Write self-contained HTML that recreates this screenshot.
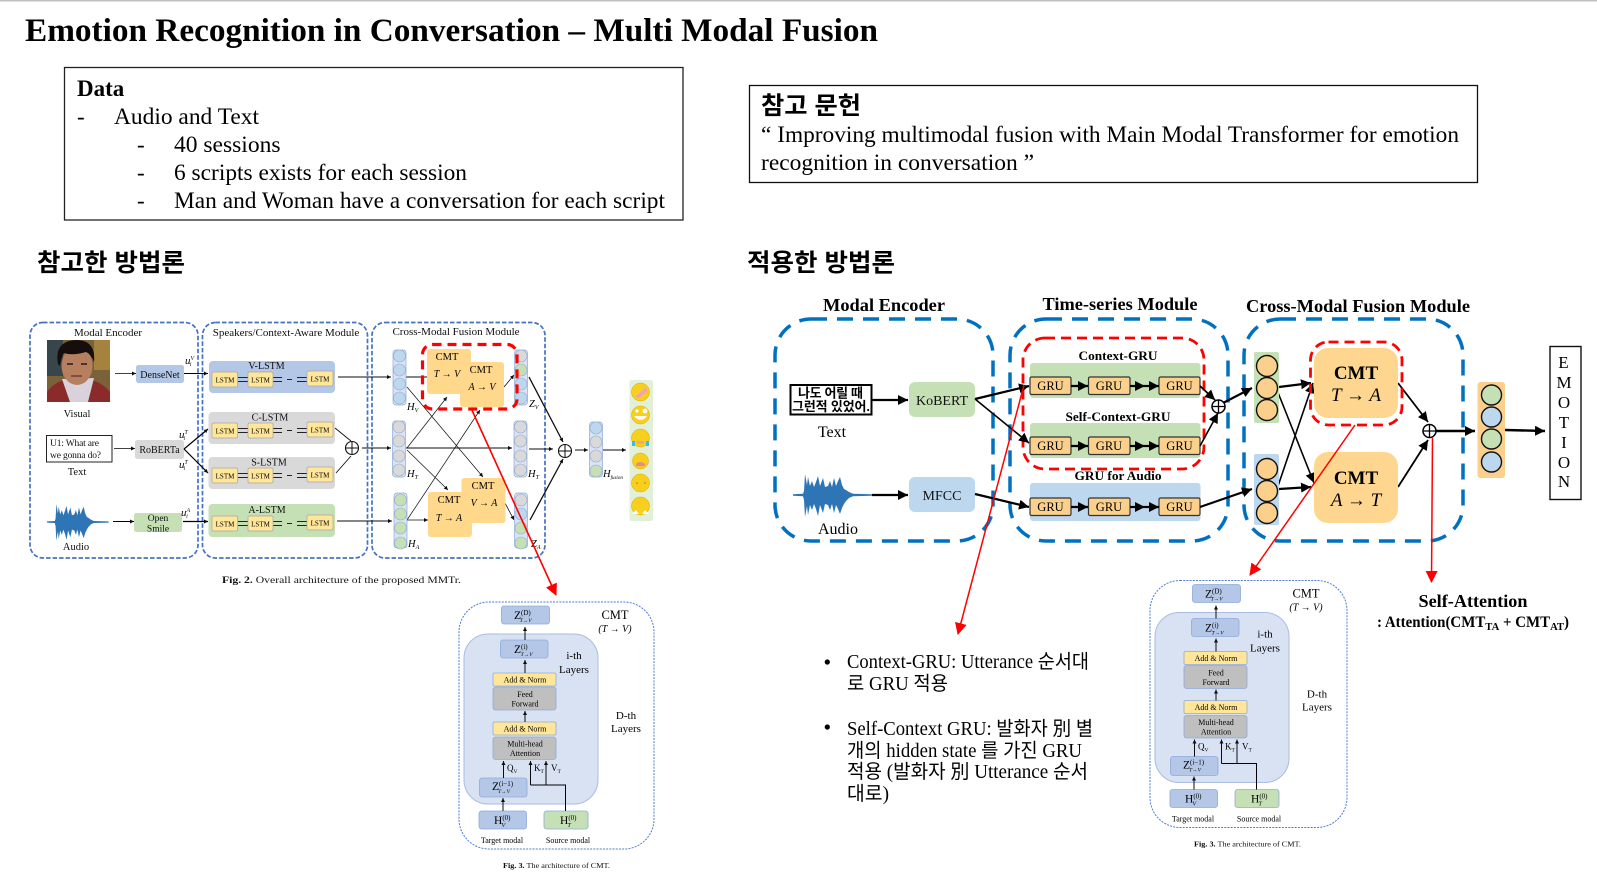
<!DOCTYPE html>
<html lang="ko"><head><meta charset="utf-8"><title>Emotion Recognition in Conversation</title>
<style>
html,body{margin:0;padding:0;background:#fff;width:1597px;height:880px;overflow:hidden}
svg{display:block}
text{font-family:"Liberation Serif","Noto Sans CJK KR",serif;fill:#000}
.k{font-family:"Liberation Sans","Noto Sans CJK KR",sans-serif}
.g{fill:#111}
.m{text-anchor:middle}
.l{stroke:#000;fill:none}
</style></head><body>
<svg xmlns="http://www.w3.org/2000/svg" width="1597" height="880" viewBox="0 0 1597 880">
<defs>
<filter id="b" x="-5%" y="-5%" width="110%" height="110%"><feGaussianBlur stdDeviation="0.35"/></filter>
<marker id="s" markerUnits="userSpaceOnUse" markerWidth="5" markerHeight="5" refX="4" refY="2" orient="auto"><path d="M0 0L4 2L0 4z" fill="#111"/></marker>
<marker id="h" markerUnits="userSpaceOnUse" markerWidth="12" markerHeight="12" refX="10" refY="5" orient="auto"><path d="M0 0L10 5L0 10z" fill="#000"/></marker>
<marker id="r" markerUnits="userSpaceOnUse" markerWidth="13" markerHeight="13" refX="11" refY="6" orient="auto"><path d="M0 0L12 6L0 12z" fill="#f00"/></marker>
<g id="c" stroke="#222" stroke-width=".9" fill="none">
<path d="M238 5.5h10M248 9.5h-10M273 5.5h9M282 9.5h-9M297 5.5h10M307 9.5h-10M287 7.5h5"/>
</g>
<path id="wl" fill="#2e75b6" d="M0-.7L10-1.2L11-4L12-21L14-10L15-18L17-9L19-14L21-8L23-13L25-19L27-9L30-17L32-8L35-9L37-14L39-8L41-17L43-9L45-14L47-18L49-10L51-6L53-5L56-3L60-1.2L79-.7V.7L60 1.2L56 3L53 6L51 9L49 13L47 19L45 14L43 10L41 18L39 9L37 15L35 10L32 9L30 18L27 10L25 21L23 14L21 9L19 15L17 10L15 20L14 11L12 22L11 5L10 1.2L0 .7Z"/>
</defs>
<rect x="0" y="0" width="1597" height="1.5" fill="#bfbfbf"/>

<text x="25" y="41" font-size="33" font-weight="700" textLength="853" lengthAdjust="spacingAndGlyphs">Emotion Recognition in Conversation – Multi Modal Fusion</text>

<rect x="64.5" y="67.5" width="618.5" height="152.5" fill="#fff" stroke="#222" stroke-width="1.3"/>
<text x="77" y="96" font-size="23" font-weight="700">Data</text>
<text x="77" y="124" font-size="23">-</text><text x="114" y="124" font-size="23.5" textLength="145" lengthAdjust="spacingAndGlyphs">Audio and Text</text>
<text x="137" y="152" font-size="23">-</text><text x="174" y="152" font-size="23.5" textLength="106.5" lengthAdjust="spacingAndGlyphs">40 sessions</text>
<text x="137" y="180" font-size="23">-</text><text x="174" y="180" font-size="23.5" textLength="293" lengthAdjust="spacingAndGlyphs">6 scripts exists for each session</text>
<text x="137" y="208" font-size="23">-</text><text x="174" y="208" font-size="23.5" textLength="491" lengthAdjust="spacingAndGlyphs">Man and Woman have a conversation for each script</text>

<rect x="749.5" y="85.5" width="728" height="97" fill="#fff" stroke="#111" stroke-width="1.3"/>
<text class="k" x="761" y="114" font-size="24.5" font-weight="700" textLength="100" lengthAdjust="spacingAndGlyphs">참고 문헌</text>
<text x="761" y="142" font-size="23.5" textLength="698" lengthAdjust="spacingAndGlyphs">“ Improving multimodal fusion with Main Modal Transformer for emotion</text>
<text x="761" y="170" font-size="23.5" textLength="273" lengthAdjust="spacingAndGlyphs">recognition in conversation ”</text>

<text class="k" x="37" y="271" font-size="24.5" font-weight="700" textLength="148" lengthAdjust="spacingAndGlyphs">참고한 방법론</text>
<text class="k" x="747" y="271" font-size="24.5" font-weight="700" textLength="148" lengthAdjust="spacingAndGlyphs">적용한 방법론</text>

<!-- LEFT MMTr FIGURE -->
<g filter="url(#b)">
<g fill="none" stroke="#4472c4" stroke-width="1.7" stroke-dasharray="4.5 2">
<rect x="30" y="322.5" width="168" height="235.5" rx="13"/>
<rect x="202.5" y="322.5" width="165" height="235.5" rx="13"/>
<rect x="372" y="322.5" width="173" height="235.5" rx="13"/>
</g>
<text class="m g" x="108" y="336" font-size="11">Modal Encoder</text>
<text class="m g" x="286" y="336" font-size="11">Speakers/Context-Aware Module</text>
<text class="m g" x="456" y="335" font-size="11">Cross-Modal Fusion Module</text>

<!-- photo -->
<rect x="47" y="340" width="63" height="62" fill="#7a6238"/>
<rect x="47" y="340" width="16" height="36" fill="#39454c"/>
<rect x="94" y="340" width="16" height="30" fill="#a5823c"/>
<path d="M47 402V392Q52 384 64 380L92 380Q104 384 110 392V402Z" fill="#8a2b2c"/>
<path d="M62 379L70 402H88L94 378Z" fill="#d9d2dc"/>
<ellipse cx="77" cy="366" rx="15.5" ry="19" fill="#b67f60"/>
<path d="M58 364Q54 341 76 340Q96 340 94 362Q91 354 86 352Q72 356 64 353Q61 357 60 366Z" fill="#18110e"/>
<path d="M67 364h6M81 364h6" stroke="#2a1a14" stroke-width="1.5"/><path d="M71 376h11" stroke="#6d3a30" stroke-width="1.5"/>
<text class="m g" x="77" y="417" font-size="10.5">Visual</text>

<rect x="136" y="365" width="48" height="18" rx="2.5" fill="#b4c7e7"/>
<text class="m g" x="160" y="378" font-size="10">DenseNet</text>
<path class="l" d="M115 373.5H136" stroke-width=".8" marker-end="url(#s)"/>
<path class="l" d="M184 373.5H208" stroke-width="1.1" marker-end="url(#s)"/>
<text x="185" y="364" font-size="11" font-style="italic" class="g">u<tspan font-size="6" dy="-4">V</tspan><tspan font-size="6" dy="6" dx="-4">i</tspan></text>

<rect x="46.5" y="435.5" width="65.5" height="26.5" fill="#fff" stroke="#222" stroke-width="1"/>
<text x="50" y="446" font-size="9.5" class="g" textLength="49">U1: What are</text>
<text x="50" y="458" font-size="9.5" class="g" textLength="51">we gonna do?</text>
<text class="m g" x="77" y="475" font-size="10.5">Text</text>
<rect x="135" y="440" width="49" height="19" rx="2.5" fill="#d9d9d9"/>
<text class="m g" x="159.5" y="453" font-size="10">RoBERTa</text>
<path class="l" d="M114 448.5H135" stroke-width=".8" marker-end="url(#s)"/>
<path class="l" d="M184 449L208 429" stroke-width="1.2" marker-end="url(#s)"/>
<path class="l" d="M184 449L208 473" stroke-width="1.2" marker-end="url(#s)"/>
<text x="179" y="438" font-size="11" font-style="italic" class="g">u<tspan font-size="6" dy="-4">T</tspan><tspan font-size="6" dy="6" dx="-4">i</tspan></text>
<text x="179" y="468" font-size="11" font-style="italic" class="g">u<tspan font-size="6" dy="-4">T</tspan><tspan font-size="6" dy="6" dx="-4">i</tspan></text>

<g transform="translate(47,522) scale(.78,.85)"><use href="#wl"/></g>
<text class="m g" x="76" y="550" font-size="10.5">Audio</text>
<rect x="134" y="513" width="48" height="19" rx="2.5" fill="#c5e0b4"/>
<text class="m g" x="158" y="521" font-size="9.5">Open</text><text class="m g" x="158" y="531.5" font-size="9.5">Smile</text>
<path class="l" d="M113 521.5H134" stroke-width="1" marker-end="url(#s)"/>
<path class="l" d="M183 521.5H208" stroke-width="1.2" marker-end="url(#s)"/>
<text x="181" y="516" font-size="11" font-style="italic" class="g">u<tspan font-size="6" dy="-4">A</tspan><tspan font-size="6" dy="6" dx="-4">i</tspan></text>

<!-- LSTM rows -->
<rect x="209" y="361" width="126" height="32" rx="4" fill="#b4c7e7"/>
<rect x="208.5" y="412" width="126.5" height="32" rx="4" fill="#d9d9d9"/>
<rect x="208.5" y="457" width="126.5" height="32" rx="4" fill="#d9d9d9"/>
<rect x="208.5" y="504" width="126.5" height="33" rx="4" fill="#c5e0b4"/>
<text class="m g" x="266.5" y="369" font-size="10">V-LSTM</text>
<text class="m g" x="270" y="420.5" font-size="10">C-LSTM</text>
<text class="m g" x="269" y="465.5" font-size="10">S-LSTM</text>
<text class="m g" x="267" y="513" font-size="10">A-LSTM</text>
<g transform="translate(0,372)"><use href="#c"/><g fill="#ffe699" stroke="#a6a6a6" stroke-width=".7"><rect x="212" y="0" width="25.5" height="15" rx="1.5"/><rect x="248" y="0" width="25" height="15" rx="1.5"/><rect x="307" y="-1" width="26" height="15" rx="1.5"/></g><text class="m" x="225" y="10.5" font-size="7">LSTM</text><text class="m" x="260.5" y="10.5" font-size="7">LSTM</text><text class="m" x="320" y="9.5" font-size="7">LSTM</text></g>
<g transform="translate(0,423)"><use href="#c"/><g fill="#ffe699" stroke="#a6a6a6" stroke-width=".7"><rect x="212" y="0" width="25.5" height="15" rx="1.5"/><rect x="248" y="0" width="25" height="15" rx="1.5"/><rect x="307" y="-1" width="26" height="15" rx="1.5"/></g><text class="m" x="225" y="10.5" font-size="7">LSTM</text><text class="m" x="260.5" y="10.5" font-size="7">LSTM</text><text class="m" x="320" y="9.5" font-size="7">LSTM</text></g>
<g transform="translate(0,468)"><use href="#c"/><g fill="#ffe699" stroke="#a6a6a6" stroke-width=".7"><rect x="212" y="0" width="25.5" height="15" rx="1.5"/><rect x="248" y="0" width="25" height="15" rx="1.5"/><rect x="307" y="-1" width="26" height="15" rx="1.5"/></g><text class="m" x="225" y="10.5" font-size="7">LSTM</text><text class="m" x="260.5" y="10.5" font-size="7">LSTM</text><text class="m" x="320" y="9.5" font-size="7">LSTM</text></g>
<g transform="translate(0,516)"><use href="#c"/><g fill="#ffe699" stroke="#a6a6a6" stroke-width=".7"><rect x="212" y="0" width="25.5" height="15" rx="1.5"/><rect x="248" y="0" width="25" height="15" rx="1.5"/><rect x="307" y="-1" width="26" height="15" rx="1.5"/></g><text class="m" x="225" y="10.5" font-size="7">LSTM</text><text class="m" x="260.5" y="10.5" font-size="7">LSTM</text><text class="m" x="320" y="9.5" font-size="7">LSTM</text></g>

<g fill="none" stroke="#111" stroke-width="1" marker-end="url(#s)">
<path d="M338 377H391"/><path d="M337 521H392"/><path d="M362 448H391"/>
<path d="M406 448H512"/><path d="M529 449H553"/><path d="M575 450H588"/><path d="M603 450H626"/>
<path d="M407 387L483 477" stroke-width=".7"/><path d="M407 448L447 397" stroke-width=".7"/><path d="M407 450L448 490" stroke-width=".7"/><path d="M407 520L480 410" stroke-width=".7"/><path d="M407 520H428" stroke-width=".8"/>
<path d="M504 387L514 375" stroke-width=".8"/><path d="M505 503L514 520" stroke-width=".8"/>
<path d="M529 377L563 442" stroke-width="1.3"/><path d="M530 520L563 459" stroke-width="1.3"/>
</g>
<path d="M335 428L351 441M336 473L351 456M406 377H427" stroke="#111" stroke-width=".9" fill="none"/>
<g fill="#fff" stroke="#111" stroke-width="1.1"><circle cx="352" cy="448" r="6.5"/><circle cx="565" cy="451" r="6.5"/></g>
<path d="M352 441.5V454.5M345.5 448H358.5M565 444.5V457.5M558.5 451H571.5" stroke="#111" stroke-width="1"/>

<!-- column strips -->
<g fill="#dae3f3" stroke="#8fa9d4" stroke-width=".7">
<rect x="393" y="350" width="13" height="55" rx="3"/><rect x="392.5" y="421" width="13" height="56" rx="3"/><rect x="394" y="493" width="13" height="55" rx="3"/>
<rect x="514.5" y="350" width="13" height="55" rx="3"/><rect x="514" y="421" width="13" height="56" rx="3"/><rect x="514.5" y="493" width="13" height="55" rx="3"/>
<rect x="589.5" y="422" width="13" height="55" rx="3"/>
</g>
<g stroke="#8fa9d4" stroke-width=".6">
<g fill="#bdd7ee"><circle cx="399.5" cy="356" r="6"/><circle cx="399.5" cy="370" r="6"/><circle cx="399.5" cy="384" r="6"/><circle cx="399.5" cy="398" r="6"/><circle cx="521" cy="384" r="6"/><circle cx="521" cy="398" r="6"/><circle cx="521" cy="514" r="6"/><circle cx="596" cy="428" r="6"/></g>
<g fill="#d9d9d9"><circle cx="399" cy="427" r="6"/><circle cx="399" cy="441" r="6"/><circle cx="399" cy="456" r="6"/><circle cx="399" cy="470" r="6"/><circle cx="521" cy="356" r="6"/><circle cx="520.5" cy="427" r="6"/><circle cx="520.5" cy="441" r="6"/><circle cx="520.5" cy="456" r="6"/><circle cx="520.5" cy="470" r="6"/><circle cx="521" cy="500" r="6"/><circle cx="596" cy="442" r="6"/><circle cx="596" cy="456" r="6"/></g>
<g fill="#c5e0b4"><circle cx="400.5" cy="500" r="6"/><circle cx="400.5" cy="514" r="6"/><circle cx="400.5" cy="528" r="6"/><circle cx="400.5" cy="543" r="6"/><circle cx="521" cy="370" r="6"/><circle cx="521" cy="528" r="6"/><circle cx="521" cy="543" r="6"/><circle cx="596" cy="471" r="6"/></g>
</g>
<g font-size="10.5" font-style="italic" class="g">
<text x="407" y="410">H<tspan font-size="6" dy="2">V</tspan></text><text x="407" y="477">H<tspan font-size="6" dy="2">T</tspan></text><text x="408" y="547">H<tspan font-size="6" dy="2">A</tspan></text>
<text x="529" y="407">Z<tspan font-size="6" dy="2">V</tspan></text><text x="528" y="477">H<tspan font-size="6" dy="2">T</tspan></text><text x="531" y="547">Z<tspan font-size="6" dy="2">A</tspan></text>
<text x="603" y="477">H<tspan font-size="5" dy="2">fusion</tspan></text>
</g>

<!-- CMT small -->
<g fill="#ffd88c">
<rect x="461.5" y="478" width="44" height="45" rx="3"/>
<rect x="428" y="492" width="44" height="45" rx="3"/>
</g>
<rect x="422.5" y="344.5" width="94.5" height="64.5" rx="10" fill="none" stroke="#f00" stroke-width="3.2" stroke-dasharray="9 6"/>
<g fill="#ffd88c">
<rect x="460" y="362" width="44" height="45" rx="3"/>
<rect x="427" y="349" width="44" height="45" rx="3"/>
</g>
<g font-size="10.5" class="m g">
<text x="447" y="360">CMT</text><text x="447" y="377" font-style="italic" font-size="10">T → V</text>
<text x="481" y="373">CMT</text><text x="482" y="390" font-style="italic" font-size="10">A → V</text>
<text x="483" y="489">CMT</text><text x="484" y="506" font-style="italic" font-size="10">V → A</text>
<text x="449" y="503">CMT</text><text x="449" y="521" font-style="italic" font-size="10">T → A</text>
</g>

<!-- emojis -->
<rect x="629.5" y="380" width="23.5" height="141" rx="2" fill="#e2f0d9"/>
<g fill="#f8cf1c" stroke="#d9a900" stroke-width=".5"><circle cx="640.5" cy="392" r="9"/><circle cx="640.5" cy="415" r="9"/><circle cx="640.5" cy="438" r="9"/><circle cx="640.5" cy="461" r="8"/><circle cx="640.5" cy="483" r="9"/><circle cx="640.5" cy="506" r="9"/></g>
<path d="M635 397L646 387L647 391L639 398Z" fill="#f2a2b8"/>
<path d="M634 416Q640.5 424 647 416Z" fill="#fff"/><circle cx="645" cy="411" r="2.4" fill="#fff"/><circle cx="637" cy="411" r="1.6" fill="#fff"/>
<path d="M632 441v5h3v-5zM646 441v5h3v-5z" fill="#40b8e0"/><path d="M637 441h7v3h-7z" fill="#f2a0a0"/>
<path d="M636 464q4-4 9 0v2h-9z" fill="#e88a8a"/>
<path d="M636 483h2M644 483h2" stroke="#b78a00"/>
<path d="M632 514l4-4 3 4zM642 514l3-4 4 4z" fill="#fff"/>
</g>

<text x="222" y="583" font-size="9.8" class="g" textLength="239" lengthAdjust="spacingAndGlyphs"><tspan font-weight="700">Fig. 2.</tspan> Overall architecture of the proposed MMTr.</text>

<path d="M471 408L556 595" stroke="#f00" stroke-width="1.6" fill="none" marker-end="url(#r)"/>

<!-- CMT detail LEFT -->
<g filter="url(#b)">
<rect x="459" y="602" width="195" height="247" rx="30" fill="#fff" stroke="#4f7bd0" stroke-width="1" stroke-dasharray="2 1.2"/>
<rect x="464" y="634" width="134" height="170" rx="24" fill="#d9e2f3" stroke="#a9bde0"/>
<g stroke="#8eaadb" stroke-width=".8">
<rect x="501.5" y="606" width="48" height="18" rx="2.5" fill="#b4c7e7"/><rect x="500.5" y="640" width="47.5" height="18" rx="2.5" fill="#b4c7e7"/>
<rect x="493" y="673" width="63" height="13" rx="1.5" fill="#ffe699"/><rect x="493" y="687" width="63" height="23" rx="2.5" fill="#bfbfbf"/>
<rect x="493" y="722" width="63" height="13" rx="1.5" fill="#ffe699"/><rect x="493" y="737" width="63" height="22.5" rx="2.5" fill="#bfbfbf"/>
<rect x="479.5" y="778" width="47.5" height="19" rx="2.5" fill="#b4c7e7"/><rect x="479" y="811" width="47.5" height="18" rx="2.5" fill="#b4c7e7"/><rect x="544" y="811" width="44" height="18" rx="2.5" fill="#c5e0b4"/>
</g>
<g class="g">
<text x="514" y="619" font-size="11.5">Z<tspan font-size="7" dy="-4">(D)</tspan><tspan font-size="5.5" dx="-11" dy="7" font-style="italic">T→V</tspan></text>
<text x="514" y="653" font-size="11.5">Z<tspan font-size="7" dy="-4">(i)</tspan><tspan font-size="5.5" dx="-7" dy="7" font-style="italic">T→V</tspan></text>
<text x="492" y="790" font-size="11.5">Z<tspan font-size="7" dy="-4">(i−1)</tspan><tspan font-size="5.5" dx="-15" dy="7" font-style="italic">T→V</tspan></text>
<text x="494" y="824" font-size="11.5">H<tspan font-size="7" dy="-4">(0)</tspan><tspan font-size="6" dx="-9" dy="7" font-style="italic">V</tspan></text>
<text x="560" y="824" font-size="11.5">H<tspan font-size="7" dy="-4">(0)</tspan><tspan font-size="6" dx="-9" dy="7" font-style="italic">T</tspan></text>
<text class="m" x="525" y="682.5" font-size="8">Add &amp; Norm</text><text class="m" x="525" y="697" font-size="8">Feed</text><text class="m" x="525" y="706.5" font-size="8">Forward</text>
<text class="m" x="525" y="731.5" font-size="8">Add &amp; Norm</text><text class="m" x="525" y="746.5" font-size="8">Multi-head</text><text class="m" x="525" y="756" font-size="8">Attention</text>
<text class="m" x="615" y="619" font-size="12.5">CMT</text><text class="m" x="615" y="632" font-size="10" font-style="italic">(T → V)</text>
<text class="m" x="574" y="659" font-size="11">i-th</text><text class="m" x="574" y="673" font-size="11">Layers</text>
<text class="m" x="626" y="719" font-size="11">D-th</text><text class="m" x="626" y="732" font-size="11">Layers</text>
<text x="507" y="771" font-size="9">Q<tspan font-size="5.5" dy="2">V</tspan></text><text x="534" y="771" font-size="9">K<tspan font-size="5.5" dy="2">T</tspan></text><text x="551" y="771" font-size="9">V<tspan font-size="5.5" dy="2">T</tspan></text>
<text class="m" x="502" y="843" font-size="8">Target modal</text><text class="m" x="568" y="843" font-size="8">Source modal</text>
</g>
<g fill="none" stroke="#111" stroke-width="1" marker-end="url(#s)">
<path d="M525 640V627"/><path d="M525 673V660"/><path d="M525 722V711"/><path d="M503.5 778V761"/><path d="M503 811V798"/><path d="M530.5 785V761"/><path d="M546 785V761"/>
</g>
<path class="l" d="M530.5 785H565.5V811" stroke-width="1"/>
<text x="503" y="868" font-size="7.2" class="g" textLength="107" lengthAdjust="spacingAndGlyphs"><tspan font-weight="700">Fig. 3.</tspan> The architecture of CMT.</text>
</g>

<!-- CMT detail RIGHT -->
<g filter="url(#b)" transform="translate(691,-21.5)">
<rect x="459" y="602" width="197" height="247" rx="30" fill="#fff" stroke="#4f7bd0" stroke-width="1" stroke-dasharray="2 1.2"/>
<rect x="464" y="634" width="134" height="170" rx="24" fill="#d9e2f3" stroke="#a9bde0"/>
<g stroke="#8eaadb" stroke-width=".8">
<rect x="501.5" y="606" width="48" height="18" rx="2.5" fill="#b4c7e7"/><rect x="500.5" y="640" width="47.5" height="18" rx="2.5" fill="#b4c7e7"/>
<rect x="493" y="673" width="63" height="13" rx="1.5" fill="#ffe699"/><rect x="493" y="687" width="63" height="23" rx="2.5" fill="#bfbfbf"/>
<rect x="493" y="722" width="63" height="13" rx="1.5" fill="#ffe699"/><rect x="493" y="737" width="63" height="22.5" rx="2.5" fill="#bfbfbf"/>
<rect x="479.5" y="778" width="47.5" height="19" rx="2.5" fill="#b4c7e7"/><rect x="479" y="811" width="47.5" height="18" rx="2.5" fill="#b4c7e7"/><rect x="544" y="811" width="44" height="18" rx="2.5" fill="#c5e0b4"/>
</g>
<g class="g">
<text x="514" y="619" font-size="11.5">Z<tspan font-size="7" dy="-4">(D)</tspan><tspan font-size="5.5" dx="-11" dy="7" font-style="italic">T→V</tspan></text>
<text x="514" y="653" font-size="11.5">Z<tspan font-size="7" dy="-4">(i)</tspan><tspan font-size="5.5" dx="-7" dy="7" font-style="italic">T→V</tspan></text>
<text x="492" y="790" font-size="11.5">Z<tspan font-size="7" dy="-4">(i−1)</tspan><tspan font-size="5.5" dx="-15" dy="7" font-style="italic">T→V</tspan></text>
<text x="494" y="824" font-size="11.5">H<tspan font-size="7" dy="-4">(0)</tspan><tspan font-size="6" dx="-9" dy="7" font-style="italic">V</tspan></text>
<text x="560" y="824" font-size="11.5">H<tspan font-size="7" dy="-4">(0)</tspan><tspan font-size="6" dx="-9" dy="7" font-style="italic">T</tspan></text>
<text class="m" x="525" y="682.5" font-size="8">Add &amp; Norm</text><text class="m" x="525" y="697" font-size="8">Feed</text><text class="m" x="525" y="706.5" font-size="8">Forward</text>
<text class="m" x="525" y="731.5" font-size="8">Add &amp; Norm</text><text class="m" x="525" y="746.5" font-size="8">Multi-head</text><text class="m" x="525" y="756" font-size="8">Attention</text>
<text class="m" x="615" y="619" font-size="12.5">CMT</text><text class="m" x="615" y="632" font-size="10" font-style="italic">(T → V)</text>
<text class="m" x="574" y="659" font-size="11">i-th</text><text class="m" x="574" y="673" font-size="11">Layers</text>
<text class="m" x="626" y="719" font-size="11">D-th</text><text class="m" x="626" y="732" font-size="11">Layers</text>
<text x="507" y="771" font-size="9">Q<tspan font-size="5.5" dy="2">V</tspan></text><text x="534" y="771" font-size="9">K<tspan font-size="5.5" dy="2">T</tspan></text><text x="551" y="771" font-size="9">V<tspan font-size="5.5" dy="2">T</tspan></text>
<text class="m" x="502" y="843" font-size="8">Target modal</text><text class="m" x="568" y="843" font-size="8">Source modal</text>
</g>
<g fill="none" stroke="#111" stroke-width="1" marker-end="url(#s)">
<path d="M525 640V627"/><path d="M525 673V660"/><path d="M525 722V711"/><path d="M503.5 778V761"/><path d="M503 811V798"/><path d="M530.5 785V761"/><path d="M546 785V761"/>
</g>
<path class="l" d="M530.5 785H565.5V811" stroke-width="1"/>
<text x="503" y="868" font-size="7.2" class="g" textLength="107" lengthAdjust="spacingAndGlyphs"><tspan font-weight="700">Fig. 3.</tspan> The architecture of CMT.</text>
</g>

<!-- RIGHT DIAGRAM -->
<text class="m" x="884" y="311" font-size="17.5" font-weight="700" textLength="122" lengthAdjust="spacingAndGlyphs">Modal Encoder</text>
<text class="m" x="1120" y="310" font-size="17.5" font-weight="700" textLength="155" lengthAdjust="spacingAndGlyphs">Time-series Module</text>
<text class="m" x="1358" y="312" font-size="17.5" font-weight="700" textLength="224" lengthAdjust="spacingAndGlyphs">Cross-Modal Fusion Module</text>
<g fill="none" stroke="#0070c0" stroke-width="3.5" stroke-dasharray="16 10">
<rect x="775" y="319" width="218" height="222" rx="36"/>
<rect x="1010" y="319" width="218" height="222" rx="36"/>
<rect x="1244" y="319" width="219" height="222" rx="36"/>
</g>
<rect x="1023" y="338" width="181" height="131" rx="22" fill="none" stroke="#f00" stroke-width="2.8" stroke-dasharray="10 6"/>
<g>
<rect x="1030" y="363" width="170.5" height="35" rx="3" fill="#c5e0b4"/>
<rect x="1030" y="423" width="170.5" height="35" rx="3" fill="#c5e0b4"/>
<rect x="1030" y="483" width="170.5" height="38" rx="3" fill="#bdd7ee"/>
</g>
<g font-size="13" font-weight="700" class="m">
<text x="1118" y="360" textLength="79" lengthAdjust="spacingAndGlyphs">Context-GRU</text>
<text x="1118" y="421" textLength="105" lengthAdjust="spacingAndGlyphs">Self-Context-GRU</text>
<text x="1118" y="480" textLength="87" lengthAdjust="spacingAndGlyphs">GRU for Audio</text>
</g>
<g fill="#fbd08c" stroke="#333" stroke-width="1.2">
<rect x="1030" y="377" width="41" height="17.5" rx="1.5"/><rect x="1088.5" y="377" width="41.5" height="17.5" rx="1.5"/><rect x="1159" y="377" width="41" height="17.5" rx="1.5"/>
<rect x="1030" y="437" width="41" height="17.5" rx="1.5"/><rect x="1088.5" y="437" width="41.5" height="17.5" rx="1.5"/><rect x="1159" y="437" width="41" height="17.5" rx="1.5"/>
<rect x="1030" y="498" width="41" height="17.5" rx="1.5"/><rect x="1088.5" y="498" width="41.5" height="17.5" rx="1.5"/><rect x="1159" y="498" width="41" height="17.5" rx="1.5"/>
</g>
<g font-size="12.5" class="m g">
<text x="1050.5" y="390">GRU</text><text x="1109" y="390">GRU</text><text x="1179.5" y="390">GRU</text>
<text x="1050.5" y="450">GRU</text><text x="1109" y="450">GRU</text><text x="1179.5" y="450">GRU</text>
<text x="1050.5" y="511">GRU</text><text x="1109" y="511">GRU</text><text x="1179.5" y="511">GRU</text>
</g>
<g fill="none" stroke="#000" stroke-width="2.2" marker-end="url(#h)">
<path d="M1071 386H1088"/><path d="M1130 386H1145"/><path d="M1145 386H1159"/>
<path d="M1071 446H1088"/><path d="M1130 446H1145"/><path d="M1145 446H1159"/>
<path d="M1071 507H1088"/><path d="M1130 507H1145"/><path d="M1145 507H1159"/>
</g>
<rect x="790.5" y="385" width="81" height="29.5" fill="#fff" stroke="#000" stroke-width="2"/>
<text class="k m" x="830.5" y="397.5" font-size="13" font-weight="700" textLength="65" lengthAdjust="spacing">나도 어릴 때</text>
<text class="k m" x="831" y="411" font-size="13" font-weight="700" textLength="78" lengthAdjust="spacing">그런적 있었어.</text>
<text class="m" x="832" y="437" font-size="16">Text</text>
<rect x="909" y="382" width="66" height="35" rx="6" fill="#c5e0b4"/>
<text class="m g" x="942" y="405" font-size="14">KoBERT</text>
<rect x="909" y="477" width="66" height="35" rx="6" fill="#bdd7ee"/>
<text class="m g" x="942" y="500" font-size="14">MFCC</text>
<g transform="translate(793,495)"><use href="#wl"/></g>
<text class="m" x="838" y="534" font-size="16">Audio</text>

<g fill="none" stroke="#000" stroke-width="2.2" marker-end="url(#h)">
<path d="M871 400H908"/><path d="M872 495H908"/>
<path d="M975 399L1029 386"/><path d="M975 399L1029 443" stroke-width="1.6"/><path d="M975 494L1029 507"/>
<path d="M1200 386L1215 400" stroke-width="1.8"/><path d="M1200 446L1218 413" stroke-width="1.6"/>
<path d="M1223 403L1252 388"/><path d="M1200 507L1252 489"/>
<path d="M1279 387L1311 383"/><path d="M1279 489L1311 487"/>
<path d="M1277 390L1314 483" stroke-width="1.6"/><path d="M1277 489L1313 383" stroke-width="1.6"/>
<path d="M1398 383L1428 422" stroke-width="1.8"/><path d="M1398 487L1428 440" stroke-width="1.8"/>
<path d="M1436 431H1475" stroke-width="2.4"/><path d="M1505 430L1545 431" stroke-width="2.4"/>
</g>
<circle cx="1218.5" cy="406.5" r="6.5" fill="#fff" stroke="#000" stroke-width="1.5"/><path d="M1218.5 400V413M1212 406.5H1225" stroke="#000" stroke-width="1.3"/>
<circle cx="1429.5" cy="431" r="6.5" fill="#fff" stroke="#000" stroke-width="1.5"/><path d="M1429.5 424.5V437.5M1423 431H1436" stroke="#000" stroke-width="1.3"/>

<rect x="1254" y="352" width="25" height="71" rx="2" fill="#c5e0b4"/>
<rect x="1254" y="454" width="25" height="71" rx="2" fill="#bdd7ee"/>
<g fill="#fbd08c" stroke="#111" stroke-width="1.4">
<circle cx="1267" cy="366" r="10.5"/><circle cx="1267" cy="388" r="10.5"/><circle cx="1267" cy="410" r="10.5"/>
<circle cx="1267" cy="469" r="10.5"/><circle cx="1267" cy="491" r="10.5"/><circle cx="1267" cy="513" r="10.5"/>
</g>
<rect x="1314" y="452" width="84" height="71" rx="14" fill="#ffd68f"/>
<rect x="1310.5" y="342" width="91.5" height="83" rx="18" fill="none" stroke="#f00" stroke-width="2.8" stroke-dasharray="10 6"/>
<rect x="1314" y="348" width="84" height="70" rx="14" fill="#ffd68f"/>
<g class="m" font-size="19" font-weight="700">
<text x="1356" y="379">CMT</text><text x="1356" y="401" font-style="italic" font-weight="400">T → A</text>
<text x="1356" y="484">CMT</text><text x="1356" y="506" font-style="italic" font-weight="400">A → T</text>
</g>
<rect x="1477.5" y="382" width="27.5" height="96" rx="3" fill="#fbd08c"/>
<g stroke="#111" stroke-width="1.4">
<circle cx="1491.5" cy="395" r="10" fill="#c5e0b4"/><circle cx="1491.5" cy="417" r="10" fill="#bdd7ee"/><circle cx="1491.5" cy="439" r="10" fill="#c5e0b4"/><circle cx="1491.5" cy="462" r="10" fill="#bdd7ee"/>
</g>
<rect x="1550" y="346.5" width="31" height="153" fill="#fff" stroke="#111" stroke-width="1.4"/>
<g class="m" font-size="17">
<text x="1563.5" y="368">E</text><text x="1564" y="388">M</text><text x="1564" y="408">O</text><text x="1564" y="428">T</text><text x="1564" y="448">I</text><text x="1564" y="468">O</text><text x="1564" y="487">N</text>
</g>

<!-- red arrows -->
<g fill="none" stroke="#f00" stroke-width="1.5" marker-end="url(#r)">
<path d="M1024 385L958 634"/><path d="M1355 425L1250 575"/><path d="M1432.5 437L1431.5 582"/>
</g>

<!-- bullets -->
<circle cx="827.3" cy="662" r="2.6" fill="#000"/><circle cx="827.3" cy="727" r="2.6" fill="#000"/>
<g font-size="19.5">
<text x="847" y="668" textLength="242" lengthAdjust="spacingAndGlyphs">Context-GRU: Utterance 순서대</text>
<text x="847" y="690" textLength="101" lengthAdjust="spacingAndGlyphs">로 GRU 적용</text>
<text x="847" y="735" textLength="246" lengthAdjust="spacingAndGlyphs">Self-Context GRU: 발화자 別 별</text>
<text x="847" y="757" textLength="235" lengthAdjust="spacingAndGlyphs">개의 hidden state 를 가진 GRU</text>
<text x="847" y="778" textLength="241" lengthAdjust="spacingAndGlyphs">적용 (발화자 別 Utterance 순서</text>
<text x="847" y="800" textLength="42" lengthAdjust="spacingAndGlyphs">대로)</text>
</g>

<text class="m" x="1473" y="607" font-size="17.5" font-weight="700" textLength="109" lengthAdjust="spacingAndGlyphs">Self-Attention</text>
<text x="1377" y="627" font-size="15.5" font-weight="700" textLength="192" lengthAdjust="spacingAndGlyphs">: Attention(CMT<tspan font-size="11" dy="3">TA</tspan><tspan dy="-3"> + CMT</tspan><tspan font-size="11" dy="3">AT</tspan><tspan dy="-3">)</tspan></text>
</svg>
</body></html>
